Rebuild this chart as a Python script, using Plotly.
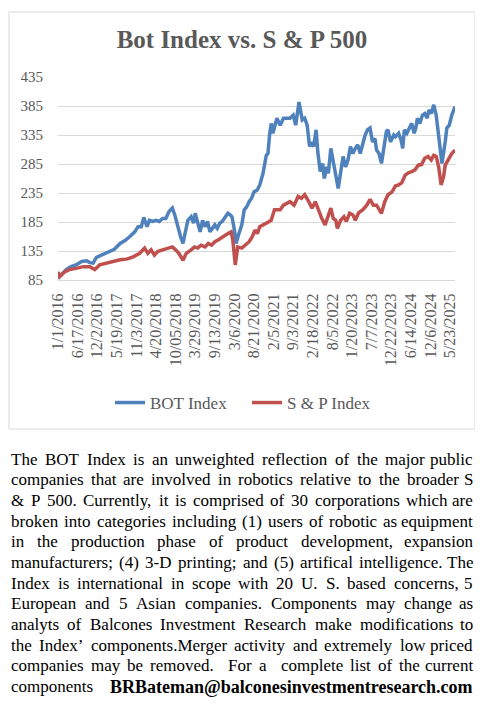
import plotly.graph_objects as go

# x axis: weekly rows, a label every 24 rows
tick_labels = ["1/1/2016", "6/17/2016", "12/2/2016", "5/19/2017", "11/3/2017",
               "4/20/2018", "10/05/2018", "3/29/2019", "9/13/2019", "3/6/2020",
               "8/21/2020", "2/5/2021", "9/3/2021", "2/18/2022", "8/5/2022",
               "1/20/2023", "7/7/2023", "12/22/2023", "6/14/2024", "12/6/2024",
               "5/23/2025"]
tick_rows = [i * 24 for i in range(len(tick_labels))]

# BOT Index (row number, value)
bot_rows = [0, 4, 10, 16, 22, 29, 35, 39, 43, 47, 53, 59, 65, 69, 76, 82, 88, 94, 98, 102,
            105, 109, 112, 116, 120, 124, 128, 132, 136, 140, 143, 147, 150, 153, 156, 159,
            163, 166, 168, 172, 174, 177, 180, 183, 186, 189, 192, 195, 198, 201, 204, 208,
            211, 213, 216, 218, 221, 225, 228, 231, 234, 237, 240, 244, 247, 251, 255, 257,
            259, 261, 263, 268, 272, 276, 280,
            284, 288, 291, 295, 299, 302, 305, 308, 310, 313, 316, 318, 321, 324, 326, 329,
            331, 334, 337, 340, 343, 346, 349, 352, 355, 358, 361, 364, 367, 370, 373, 376,
            379, 382, 385, 388, 390, 393, 396, 399, 402, 404, 407, 411,
            413, 417, 420, 422, 424, 427, 430, 433, 436, 438, 440, 443, 446, 449, 452, 454,
            457, 460, 463, 465, 468, 470, 474, 476, 479, 482, 486]
bot_values = [88, 94, 103, 108, 111, 117, 118, 115, 114, 124, 128, 132, 136, 138, 148, 153, 160, 168, 177, 177,
              193, 177, 188, 186, 188, 186, 191, 191, 203, 209, 197, 174, 160, 148, 168, 188,
              194, 183, 200, 180, 168, 188, 177, 186, 168, 174, 180, 174, 183, 186, 191, 200,
              197, 194, 171, 148, 163, 180, 206, 211, 220, 226, 237, 240, 249, 269, 300, 303,
              335, 355, 338, 364, 352, 364, 364,
              364, 369, 352, 392, 361, 364, 352, 315, 323, 315, 344, 306, 272, 286, 260, 280,
              269, 312, 292, 266, 243, 275, 298, 280, 292, 315, 303, 312, 318, 303, 320, 335,
              344, 347, 323, 329, 309, 303, 286, 318, 341, 344, 323, 335,
              332, 338, 326, 312, 344, 338, 347, 355, 338, 347, 364, 355, 369, 372, 364, 378,
              372, 387, 369, 341, 312, 286, 323, 347, 352, 369, 384]

# S & P Index
spx_rows = [0, 2, 8, 14, 22, 31, 39, 45, 51, 59, 67, 76, 84, 92, 100,
            106, 110, 114, 118, 122, 128, 134, 140, 144, 148, 153, 157, 163, 167, 171, 175,
            180, 184, 188, 192, 196, 202, 208, 212, 214, 217, 220, 225, 229, 234, 238, 241,
            244, 247, 255, 261, 265, 272, 276, 280,
            284, 289, 294, 298, 302, 307, 311, 315, 320, 323, 327, 331, 334, 337, 340, 342,
            346, 350, 353, 357, 361, 364, 368, 373, 378, 382, 386, 390, 396, 400, 404, 409,
            413, 417, 421, 425, 429, 433, 437, 441, 445, 449, 453, 457, 460, 463, 466, 469,
            472, 474, 478, 482, 486]
spx_values = [99, 91, 99, 103, 105, 108, 108, 103, 111, 114, 118, 120, 121, 125, 131,
              140, 131, 137, 128, 134, 137, 140, 142, 137, 131, 119, 131, 137, 142, 140, 145,
              142, 148, 145, 151, 154, 160, 165, 168, 154, 111, 142, 140, 145, 151, 160, 171,
              165, 177, 183, 188, 206, 206, 214, 217,
              220, 214, 229, 226, 232, 220, 209, 220, 200, 191, 180, 197, 209, 191, 188, 174,
              188, 194, 186, 200, 197, 188, 201, 206, 214, 224, 214, 214, 200, 220, 232, 237,
              247, 249, 253, 266, 270, 272, 275, 283, 284, 295, 298, 292, 300, 298, 280, 249,
              263, 283, 292, 303, 309]

paragraph = [
    "The BOT Index is an unweighted reflection of the major public",
    "companies that are involved in robotics relative to the broader S",
    "& P 500. Currently, it is comprised of 30 corporations which are",
    "broken into categories including (1) users of robotic as equipment",
    "in the production phase of product development, expansion",
    "manufacturers; (4) 3-D printing; and (5) artifical intelligence. The",
    "Index is international in scope with 20 U. S. based concerns, 5",
    "European and 5 Asian companies. Components may change as",
    "analyts of Balcones Investment Research make modifications to",
    "the Index\u2019 components.Merger activity and extremely low priced",
    "companies may be removed.  For a  complete list of the current",
    "components  BRBateman@balconesinvestmentresearch.com",
]
bold_words = {"BRBateman@balconesinvestmentresearch.com"}

FONT = "Liberation Serif"
GREY = "#595959"

# Times metrics (Liberation Serif is metric compatible), used to justify the paragraph
REG = dict(zip("ABCDEFGHIJKLMNOPQRSTUVWXYZ",
               [722, 667, 667, 722, 611, 556, 722, 722, 333, 389, 722, 611, 889, 722, 722, 556,
                722, 667, 556, 611, 722, 722, 944, 722, 722, 611]))
REG.update(zip("abcdefghijklmnopqrstuvwxyz",
               [444, 500, 444, 500, 444, 333, 500, 500, 278, 278, 500, 278, 778, 500, 500, 500,
                500, 333, 389, 278, 500, 500, 722, 500, 500, 444]))
REG.update({c: 500 for c in "0123456789"})
REG.update({" ": 250, ".": 250, ",": 250, ";": 278, ":": 278, "(": 333, ")": 333,
            "-": 333, "&": 778, "@": 921, "\u2019": 333, "'": 180})
BOLD = dict(REG)
BOLD.update(zip("abcdefghijklmnopqrstuvwxyz",
                [500, 556, 444, 556, 444, 333, 500, 556, 278, 333, 556, 278, 833, 556, 500, 556,
                 556, 444, 389, 333, 556, 500, 722, 500, 500, 444]))
BOLD.update({"B": 667, "R": 722, "@": 930})


def text_width(s, size, bold=False):
    table = BOLD if bold else REG
    return sum(table.get(c, 500) for c in s) * size / 1000.0


# the page puts the figure 8px in from the top left corner
OFF = 8
W, H = 483 - OFF, 705 - OFF
# plot area in page pixels, used to place things outside it in paper units
PL, PR, PT, PB = 58, 455, 77, 280


def xp(x):
    return (x - PL) / (PR - PL)


def yp(y):
    return (PB - y) / (PB - PT)


fig = go.Figure()
fig.add_trace(go.Scatter(x=bot_rows, y=bot_values, mode="lines", name="BOT Index",
                         line=dict(color="#4F81BD", width=3.5)))
fig.add_trace(go.Scatter(x=spx_rows, y=spx_values, mode="lines", name="S & P Index",
                         line=dict(color="#C0504D", width=3.5)))

annotations = []
size, bold_size = 17, 18
left, right = 10, 474
for i, line in enumerate(paragraph):
    words = line.split(" ")
    sizes = [bold_size if w in bold_words else size for w in words]
    widths = [text_width(w, s, w in bold_words) for w, s in zip(words, sizes)]
    gap = (right - left - sum(widths)) / (len(words) - 1)
    x = left
    yc = 459 + i * 20.7
    for j, (w, wd, s) in enumerate(zip(words, widths, sizes)):
        last = j == len(words) - 1
        if w:
            txt = "<b>%s</b>" % w if w in bold_words else w
            annotations.append(dict(x=xp(right if last else x), y=yp(yc),
                                    xref="paper", yref="paper",
                                    text=txt, showarrow=False,
                                    xanchor="right" if last else "left",
                                    yanchor="middle", borderpad=0,
                                    font=dict(family=FONT, size=s, color="#000000")))
        x += wd + gap

fig.update_layout(
    width=W, height=H,
    margin=dict(l=PL - OFF, r=W - (PR - OFF), t=PT - OFF, b=H - (PB - OFF)),
    paper_bgcolor="white", plot_bgcolor="white",
    font=dict(family=FONT, color=GREY),
    title=dict(text="<b>Bot Index vs. S & P 500</b>", x=(242 - OFF) / W, y=1 - (39 - OFF) / H,
               xanchor="center", yanchor="middle",
               font=dict(family=FONT, size=25, color=GREY)),
    xaxis=dict(range=[0, 486], tickmode="array", tickvals=tick_rows, ticktext=tick_labels,
               tickangle=-90, showgrid=False, zeroline=False, showline=True,
               linecolor="#d9d9d9", linewidth=1, ticks="", ticklabelstandoff=6,
               tickfont=dict(family=FONT, size=16, color=GREY)),
    yaxis=dict(range=[85, 435], tick0=85, dtick=50, showgrid=True, gridcolor="#d9d9d9",
               gridwidth=1, zeroline=False, showline=False, ticks="", ticklabelstandoff=14,
               tickfont=dict(family=FONT, size=15, color=GREY)),
    showlegend=True,
    legend=dict(orientation="h", x=xp(110), xanchor="left", y=yp(403), yanchor="middle",
                entrywidth=92, font=dict(family=FONT, size=17, color=GREY),
                bgcolor="rgba(0,0,0,0)"),
    shapes=[dict(type="rect", xref="paper", yref="paper", x0=xp(9), x1=xp(475),
                 y0=yp(429), y1=yp(12), line=dict(color="#d9d9d9", width=1))],
    annotations=annotations,
    hovermode=False,
)

fig.write_html("out.html")
